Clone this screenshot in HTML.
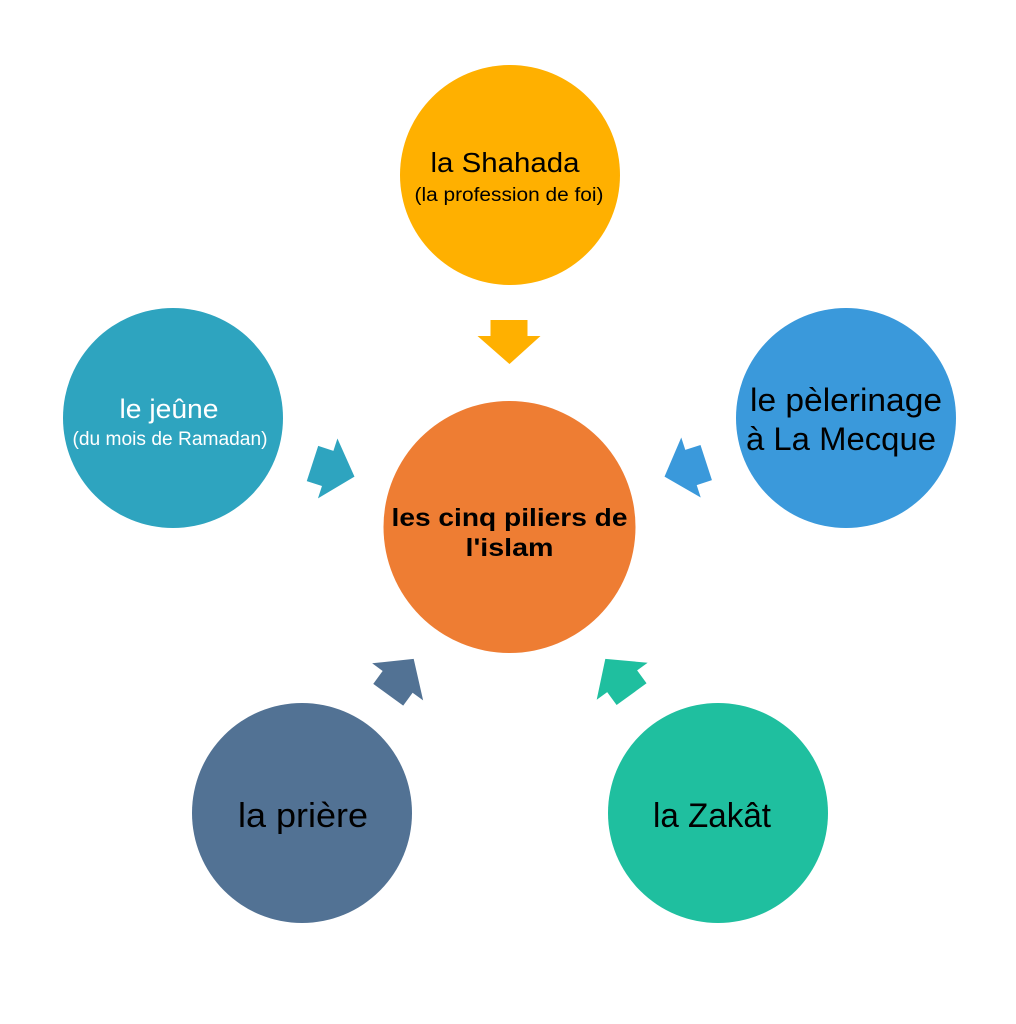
<!DOCTYPE html>
<html><head><meta charset="utf-8"><style>body{margin:0;background:#fff}svg{display:block}</style></head>
<body>
<svg width="1016" height="1024" viewBox="0 0 1016 1024" xmlns="http://www.w3.org/2000/svg" font-family="Liberation Sans, DejaVu Sans, sans-serif">
<defs>
<path id="arr" d="M-19,-207 L18,-207 L18,-191 L31,-191 L0,-163 L-32,-191 L-19,-191 Z"/>
</defs>
<g transform="translate(509.5,527)">
<use href="#arr" fill="#FFB000"/>
<use href="#arr" fill="#3A99DB" transform="rotate(72)"/>
<use href="#arr" fill="#1FBF9F" transform="rotate(144)"/>
<use href="#arr" fill="#527294" transform="rotate(216)"/>
<use href="#arr" fill="#2EA4BF" transform="rotate(288)"/>
</g>
<circle cx="509.5" cy="527" r="126" fill="#EE7D33"/>
<circle cx="510" cy="175" r="110" fill="#FFB000"/>
<circle cx="173" cy="418" r="110" fill="#2EA4BF"/>
<circle cx="846" cy="418" r="110" fill="#3A99DB"/>
<circle cx="302" cy="813" r="110" fill="#527294"/>
<circle cx="718" cy="813" r="110" fill="#1FBF9F"/>
<g text-anchor="middle">
<text x="509.5" y="526" font-weight="bold" font-size="25" textLength="236" lengthAdjust="spacingAndGlyphs">les cinq piliers de</text>
<text x="509.5" y="556" font-weight="bold" font-size="25" textLength="88" lengthAdjust="spacingAndGlyphs">l'islam</text>
<text x="505" y="172" font-size="28" textLength="149" lengthAdjust="spacingAndGlyphs">la Shahada</text>
<text x="509" y="201" font-size="19" textLength="189" lengthAdjust="spacingAndGlyphs">(la profession de foi)</text>
<text x="169" y="418" font-size="27" fill="#fff" textLength="99" lengthAdjust="spacingAndGlyphs">le jeûne</text>
<text x="170" y="445" font-size="19" fill="#fff" textLength="195" lengthAdjust="spacingAndGlyphs">(du mois de Ramadan)</text>
<text x="846" y="411" font-size="32" textLength="192" lengthAdjust="spacingAndGlyphs">le pèlerinage</text>
<text x="841" y="450" font-size="32" textLength="190" lengthAdjust="spacingAndGlyphs">à La Mecque</text>
<text x="303" y="827" font-size="34" textLength="130" lengthAdjust="spacingAndGlyphs">la prière</text>
<text x="712" y="827" font-size="34" textLength="118" lengthAdjust="spacingAndGlyphs">la Zakât</text>
</g>
</svg>
</body></html>
